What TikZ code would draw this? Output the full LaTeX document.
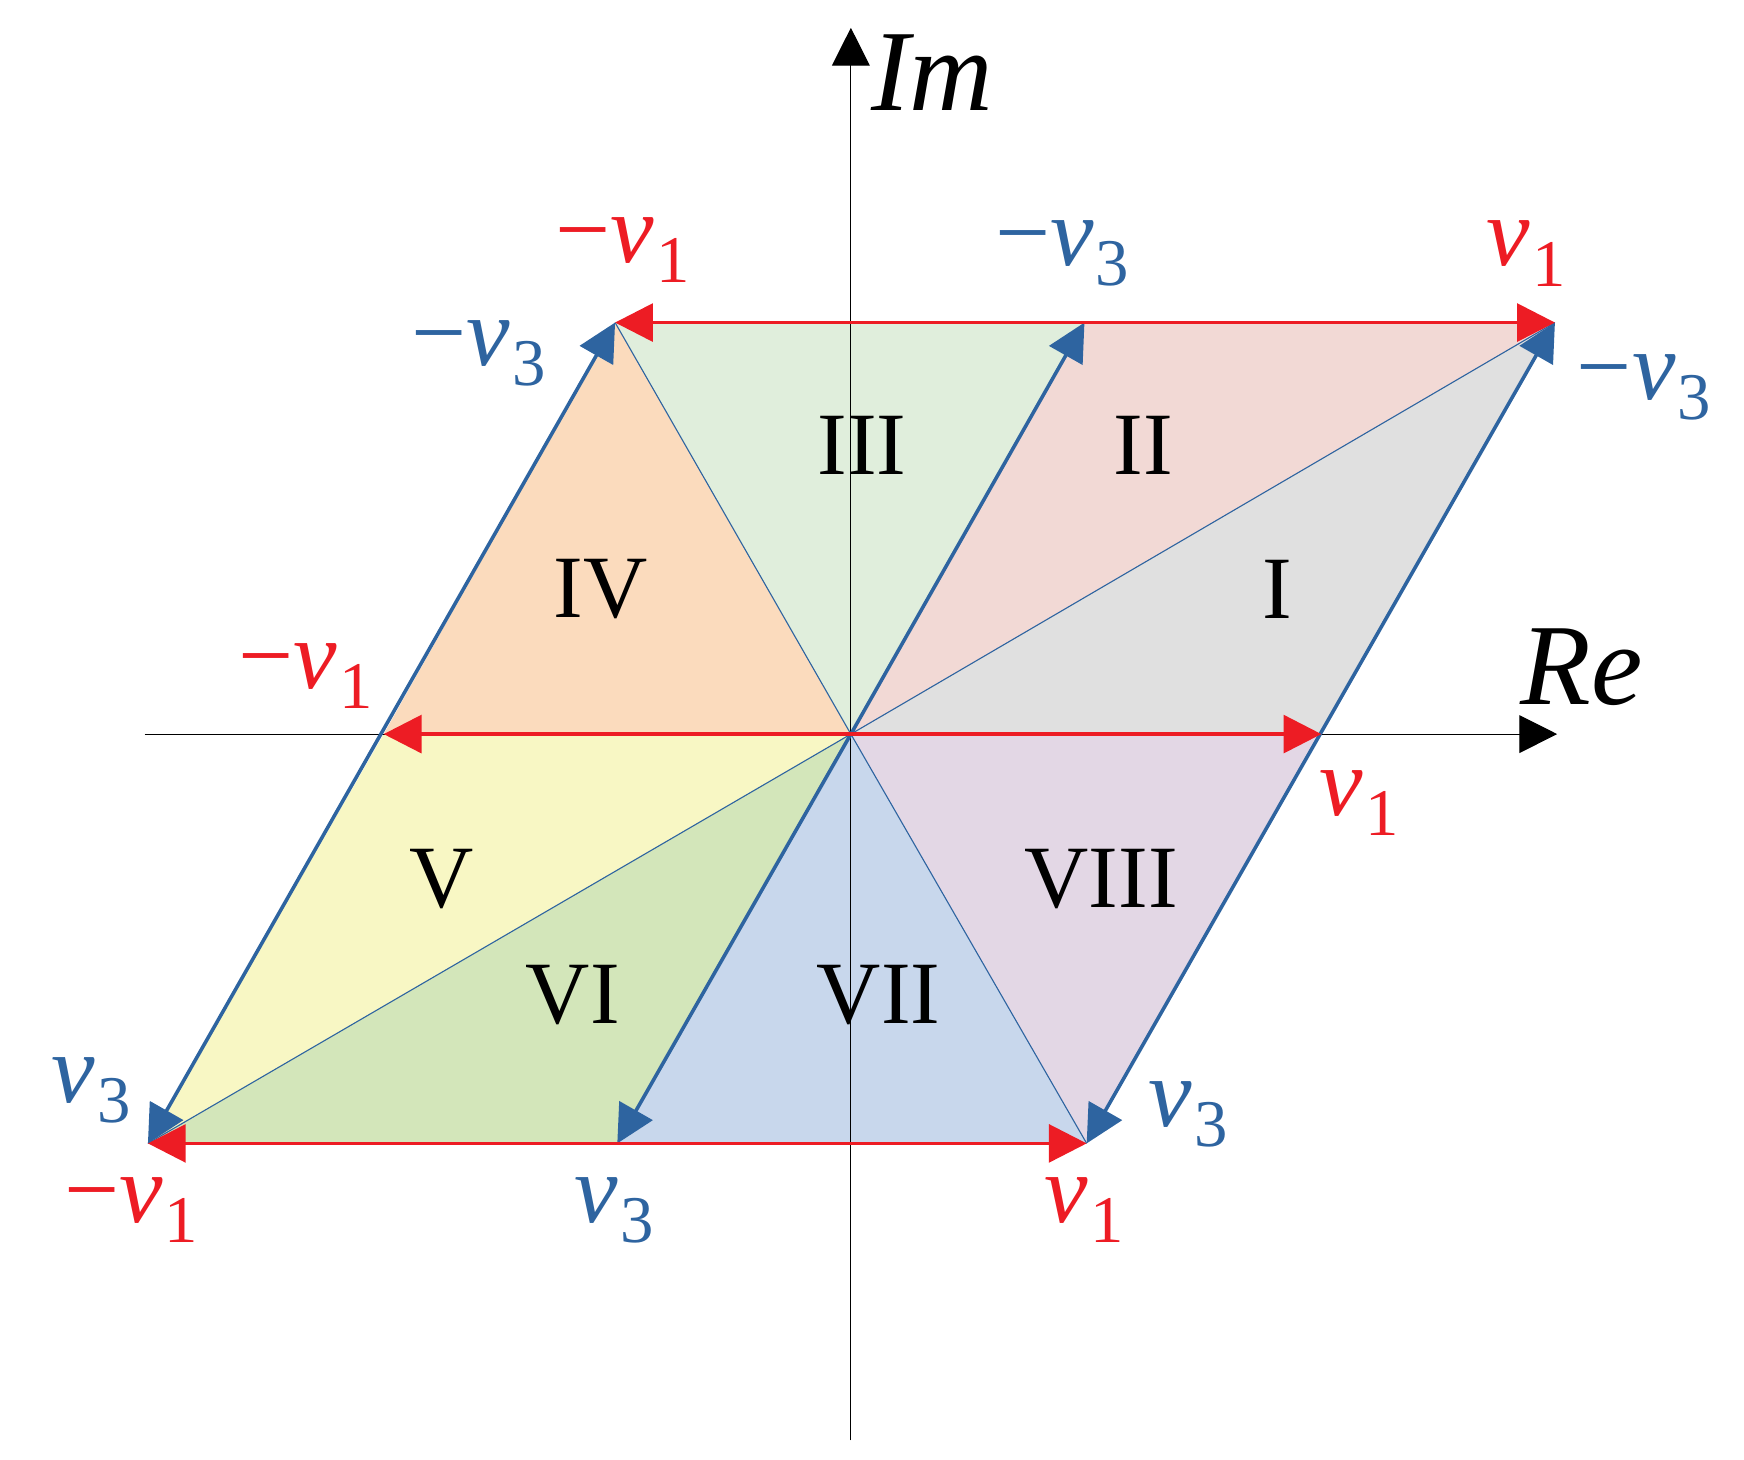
\documentclass[tikz,border=0pt]{standalone}
\usepackage{fontspec}
\setmainfont{Liberation Serif}
\usetikzlibrary{arrows.meta}
\definecolor{rd}{RGB}{237,28,36}
\definecolor{bl}{RGB}{46,100,160}
\newcommand\vv[1]{\textit{v}\kern1pt\raisebox{-0.45ex}{\fontsize{30}{32}\selectfont #1}}
\tikzset{
 lab/.style={font=\fontsize{44}{50}\selectfont},
 rom/.style={font=\fontsize{40}{48}\selectfont},
 rarr/.style={draw=rd,line width=1.6pt,-{Triangle[length=17pt,width=17pt]}},
 barr/.style={draw=bl,line width=1.6pt,-{Triangle[length=17pt,width=17pt]}},
 thinb/.style={draw=bl,line width=0.5pt},
}
\begin{document}
\begin{tikzpicture}[x=0.5pt,y=-0.5pt]
\useasboundingbox (0,0) rectangle (1568,1312);
\coordinate (O) at (765,660);
\coordinate (A) at (553,290);\coordinate (B) at (975,290);\coordinate (C) at (1398,290);
\coordinate (D) at (345,660);\coordinate (E) at (1188,660);
\coordinate (F) at (133,1028);\coordinate (G) at (555,1028);\coordinate (H) at (977,1028);
\fill[fill={rgb,255:red,224;green,224;blue,224}] (O)--(E)--(C)--cycle;
\fill[fill={rgb,255:red,242;green,217;blue,213}] (O)--(C)--(B)--cycle;
\fill[fill={rgb,255:red,224;green,238;blue,220}] (O)--(B)--(A)--cycle;
\fill[fill={rgb,255:red,251;green,219;blue,189}] (O)--(A)--(D)--cycle;
\fill[fill={rgb,255:red,248;green,247;blue,196}] (O)--(D)--(F)--cycle;
\fill[fill={rgb,255:red,211;green,230;blue,186}] (O)--(F)--(G)--cycle;
\fill[fill={rgb,255:red,200;green,215;blue,236}] (O)--(G)--(H)--cycle;
\fill[fill={rgb,255:red,227;green,215;blue,229}] (O)--(H)--(E)--cycle;
% axes
\coordinate (xl) at (130,660);\coordinate (xr) at (1400,660);
\coordinate (yb) at (765,1295);\coordinate (yt) at (765,25);
\draw[line width=0.5pt,-{Triangle[length=17pt,width=17pt]}] (xl)--(xr);
\draw[line width=0.5pt,-{Triangle[length=17pt,width=17pt]}] (yb)--(yt);
% thin blue
\draw[thinb] (O)--(A) (O)--(C) (O)--(F) (O)--(H);
% blue arrows
\draw[barr] (O)--(B);
\draw[barr] (O)--(G);
\draw[barr,{Triangle[length=17pt,width=17pt]}-{Triangle[length=17pt,width=17pt]}] (F)--(A);
\draw[barr,{Triangle[length=17pt,width=17pt]}-{Triangle[length=17pt,width=17pt]}] (H)--(C);
% red arrows
\draw[rarr,{Triangle[length=17pt,width=17pt]}-{Triangle[length=17pt,width=17pt]}] (A)--(C);
\draw[rarr] (O)--(E);
\draw[rarr] (O)--(D);
\draw[rarr,{Triangle[length=17pt,width=17pt]}-{Triangle[length=17pt,width=17pt]}] (F)--(H);
% axis labels
\node[lab,font=\fontsize{52}{56}\selectfont\itshape] (im) at (838,65) {Im};
\node[lab,font=\fontsize{52}{56}\selectfont\itshape] (re) at (1422,600) {Re};
% numerals
\node[rom] (n1) at (1148,530) {I};
\node[rom] (n2) at (1028,400) {II};
\node[rom] (n3) at (775,400) {III};
\node[rom] (n4) at (540,530) {IV};
\node[rom] (n5) at (397,790) {V};
\node[rom] (n6) at (515,895) {VI};
\node[rom] (n7) at (790,895) {VII};
\node[rom] (n8) at (990,790) {VIII};
% vector labels
\node[lab,text=rd] (l1) at (560,225) {−\vv{1}};
\node[lab,text=bl] (l2) at (955,228) {−\vv{3}};
\node[lab,text=rd] (l3) at (1372,228) {\vv{1}};
\node[lab,text=bl] (l4) at (430,318) {−\vv{3}};
\node[lab,text=bl] (l5) at (1478,348) {−\vv{3}};
\node[lab,text=rd] (l6) at (275,608) {−\vv{1}};
\node[lab,text=rd] (l7) at (1222,722) {\vv{1}};
\node[lab,text=bl] (l8) at (82,980) {\vv{3}};
\node[lab,text=rd] (l9) at (118,1088) {−\vv{1}};
\node[lab,text=bl] (l10) at (552,1088) {\vv{3}};
\node[lab,text=rd] (l11) at (975,1088) {\vv{1}};
\node[lab,text=bl] (l12) at (1068,1002) {\vv{3}};
\end{tikzpicture}
\end{document}
